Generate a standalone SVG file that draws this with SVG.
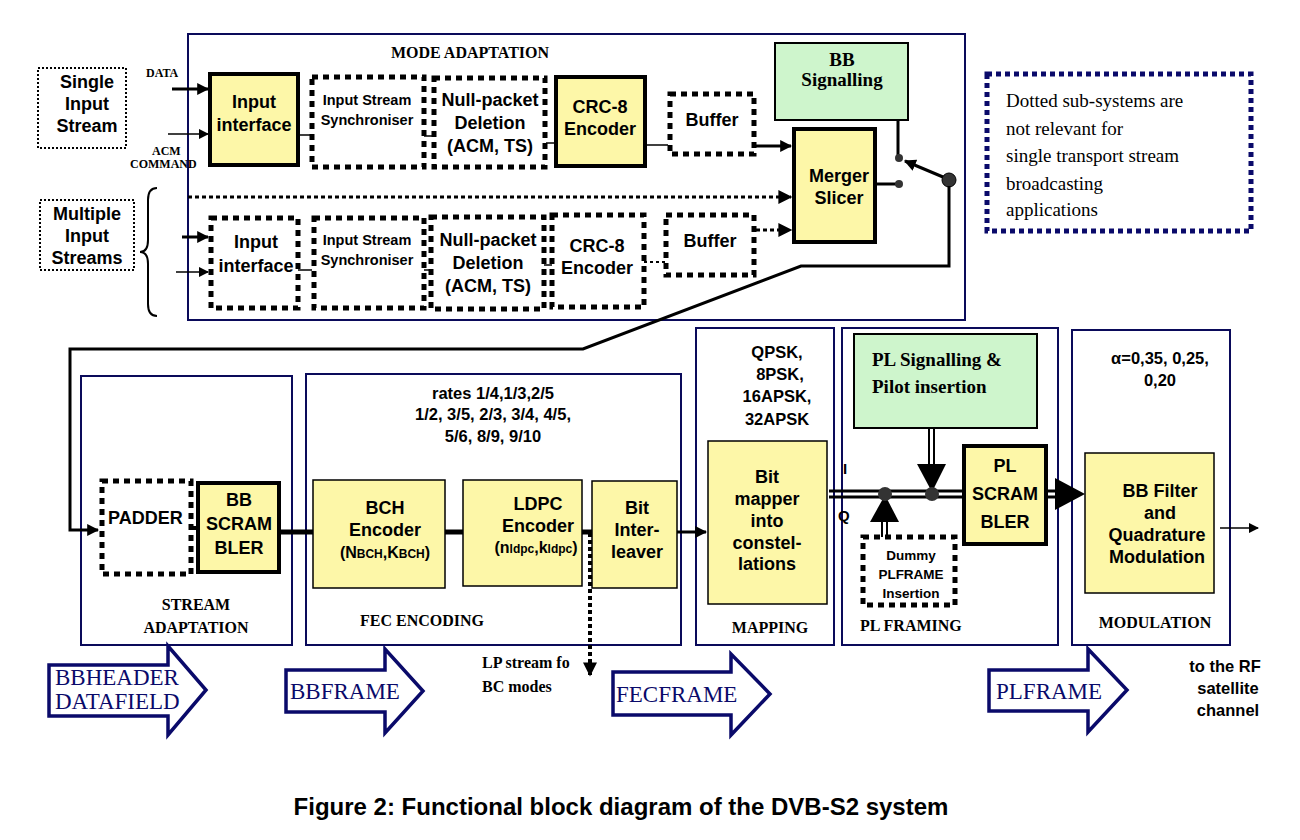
<svg xmlns="http://www.w3.org/2000/svg" width="1300" height="840" viewBox="0 0 1300 840">
<style>
.s{font-family:"Liberation Sans",Arial,sans-serif;font-weight:bold;fill:#000}
.r{font-family:"Liberation Serif","Times New Roman",serif;font-weight:bold;fill:#000}
.rn{font-family:"Liberation Serif","Times New Roman",serif;fill:#000}
.grp{fill:#fff;stroke:#0a0a5a;stroke-width:2}
.y{fill:#fdf7a8;stroke:#000;stroke-width:1.5}
.ys{fill:#fdf7a8;stroke:#000;stroke-width:4}
.d{fill:#fff;stroke:#000;stroke-width:5;stroke-dasharray:6 5}
.g{fill:#cef5cc;stroke:#000;stroke-width:2}
.w{fill:none;stroke:#000;stroke-width:3}
.th{fill:none;stroke:#000;stroke-width:1.5}
.ba{fill:#fff;stroke:#0a0a6a;stroke-width:3.5}
.bt{font-family:"Liberation Serif","Times New Roman",serif;fill:#0a0a6a;font-size:23px}
</style>
<defs>
<marker id="a" viewBox="0 0 10 10" refX="9" refY="5" markerWidth="4" markerHeight="4" orient="auto" markerUnits="strokeWidth"><path d="M0,0L10,5L0,10z" fill="#000"/></marker>
<marker id="a2" viewBox="0 0 10 10" refX="9" refY="5" markerWidth="7" markerHeight="7" orient="auto" markerUnits="strokeWidth"><path d="M0,0L10,5L0,10z" fill="#000"/></marker>
<marker id="a3" viewBox="0 0 10 10" refX="9" refY="5" markerWidth="18" markerHeight="14" orient="auto" markerUnits="userSpaceOnUse"><path d="M0,0L10,5L0,10z" fill="#000"/></marker>
</defs>
<rect width="1300" height="840" fill="#fff"/>

<g id="mode-adaptation">
<rect class="grp" x="188" y="34" width="777" height="286"/>
<text class="r" x="470" y="58" font-size="16" text-anchor="middle">MODE ADAPTATION</text>
</g>
<g id="single-input"><rect x="38" y="68" width="88" height="80" fill="#fff" stroke="#000" stroke-width="2" stroke-dasharray="2 2"/>
<text class="s" font-size="18" text-anchor="middle"><tspan x="87" y="88">Single</tspan><tspan x="87" y="110">Input</tspan><tspan x="87" y="132">Stream</tspan></text></g>
<text class="r" x="146" y="77" font-size="12">DATA</text>
<text class="r" x="152" y="155" font-size="12">ACM</text>
<text class="r" x="130" y="168" font-size="12">COMMAND</text>
<g id="multi-input"><rect x="40" y="200" width="94" height="70" fill="#fff" stroke="#000" stroke-width="2" stroke-dasharray="2 2"/>
<text class="s" font-size="18" text-anchor="middle"><tspan x="87" y="220">Multiple</tspan><tspan x="87" y="242">Input</tspan><tspan x="87" y="264">Streams</tspan></text></g>
<path d="M157,188 Q148,188 148,200 L148,240 Q148,252 140,252 Q148,252 148,264 L148,304 Q148,316 157,316" fill="none" stroke="#000" stroke-width="2"/>

<g id="input-if1"><rect class="ys" x="210" y="74" width="88" height="91"/><text class="s" font-size="18" text-anchor="middle"><tspan x="254" y="108">Input</tspan><tspan x="254" y="131">interface</tspan></text></g>
<g id="sync1"><rect class="d" x="312" y="77" width="112" height="90"/><text class="s" font-size="14.5" text-anchor="middle"><tspan x="367" y="105">Input Stream</tspan><tspan x="367" y="125">Synchroniser</tspan></text></g>
<g id="null1"><rect class="d" x="434" y="78" width="111" height="89"/><text class="s" font-size="18" text-anchor="middle"><tspan x="490" y="106">Null-packet</tspan><tspan x="490" y="129">Deletion</tspan><tspan x="490" y="152">(ACM, TS)</tspan></text></g>
<g id="crc1"><rect class="ys" x="556" y="77" width="89" height="89"/><text class="s" font-size="18" text-anchor="middle"><tspan x="600" y="113">CRC-8</tspan><tspan x="600" y="135">Encoder</tspan></text></g>
<g id="buf1"><rect class="d" x="670" y="94" width="84" height="60"/><text class="s" font-size="18" text-anchor="middle" x="712" y="126">Buffer</text></g>
<g id="bb-sig"><rect class="g" x="775" y="43" width="133" height="77"/><text class="r" font-size="19" text-anchor="middle"><tspan x="842" y="66">BB</tspan><tspan x="842" y="86">Signalling</tspan></text></g>
<g id="merger"><rect class="ys" x="794" y="129" width="81" height="113"/><text class="s" font-size="18" text-anchor="middle"><tspan x="839" y="182">Merger</tspan><tspan x="839" y="204">Slicer</tspan></text></g>

<g id="input-if2"><rect class="d" x="211" y="218" width="87" height="90"/><text class="s" font-size="18" text-anchor="middle"><tspan x="256" y="248">Input</tspan><tspan x="256" y="272">interface</tspan></text></g>
<g id="sync2"><rect class="d" x="314" y="218" width="110" height="90"/><text class="s" font-size="14.5" text-anchor="middle"><tspan x="367" y="245">Input Stream</tspan><tspan x="367" y="265">Synchroniser</tspan></text></g>
<g id="null2"><rect class="d" x="431" y="217" width="113" height="92"/><text class="s" font-size="18" text-anchor="middle"><tspan x="488" y="246">Null-packet</tspan><tspan x="488" y="269">Deletion</tspan><tspan x="488" y="292">(ACM, TS)</tspan></text></g>
<g id="crc2"><rect class="d" x="552" y="215" width="92" height="92"/><text class="s" font-size="18" text-anchor="middle"><tspan x="597" y="252">CRC-8</tspan><tspan x="597" y="274">Encoder</tspan></text></g>
<g id="buf2"><rect class="d" x="666" y="215" width="88" height="60"/><text class="s" font-size="18" text-anchor="middle" x="710" y="247">Buffer</text></g>

<g id="note"><rect x="987" y="74" width="264" height="157" fill="#fff" stroke="#0a0a6a" stroke-width="5" stroke-dasharray="5 4"/>
<text class="rn" font-size="19"><tspan x="1006" y="107">Dotted sub-systems are</tspan><tspan x="1006" y="135">not relevant for</tspan><tspan x="1006" y="162">single transport stream</tspan><tspan x="1006" y="190">broadcasting</tspan><tspan x="1006" y="216">applications</tspan></text></g>

<g id="stream-adaptation"><rect class="grp" x="81" y="376" width="211" height="269"/>
<text class="r" font-size="16" text-anchor="middle"><tspan x="196" y="610">STREAM</tspan><tspan x="196" y="633">ADAPTATION</tspan></text></g>
<g id="padder"><rect class="d" x="102" y="481" width="89" height="93"/><text class="s" font-size="18" x="108" y="524">PADDER</text></g>
<g id="bbscram"><rect class="ys" x="198" y="483" width="81" height="89"/><text class="s" font-size="18" text-anchor="middle"><tspan x="239" y="506">BB</tspan><tspan x="239" y="530">SCRAM</tspan><tspan x="239" y="554">BLER</tspan></text></g>

<g id="fec"><rect class="grp" x="306" y="374" width="375" height="271"/>
<text class="s" font-size="16.5" text-anchor="middle"><tspan x="493" y="399">rates 1/4,1/3,2/5</tspan><tspan x="493" y="420">1/2, 3/5, 2/3, 3/4, 4/5,</tspan><tspan x="493" y="442">5/6, 8/9, 9/10</tspan></text>
<text class="r" font-size="16" x="360" y="626">FEC ENCODING</text></g>
<g id="bch"><rect class="y" x="313" y="480" width="132" height="108"/><text class="s" font-size="18" text-anchor="middle"><tspan x="385" y="514">BCH</tspan><tspan x="385" y="536">Encoder</tspan></text><text class="s" font-size="16" text-anchor="middle" x="385" y="558">(N<tspan font-size="12">BCH</tspan>,K<tspan font-size="12">BCH</tspan>)</text></g>
<g id="ldpc"><rect class="y" x="463" y="480" width="119" height="106"/><text class="s" font-size="18" text-anchor="middle"><tspan x="538" y="510">LDPC</tspan><tspan x="538" y="532">Encoder</tspan></text><text class="s" font-size="16" text-anchor="middle" x="536" y="553">(n<tspan font-size="12">ldpc</tspan>,k<tspan font-size="12">ldpc</tspan>)</text></g>
<g id="interleaver"><rect class="y" x="592" y="481" width="85" height="107"/><text class="s" font-size="18" text-anchor="middle"><tspan x="637" y="514">Bit</tspan><tspan x="637" y="536">Inter-</tspan><tspan x="637" y="558">leaver</tspan></text></g>
<text class="r" font-size="16"><tspan x="482" y="668">LP stream fo</tspan><tspan x="482" y="692">BC modes</tspan></text>

<g id="mapping"><rect class="grp" x="696" y="328" width="138" height="317"/>
<text class="s" font-size="16.5" text-anchor="middle"><tspan x="777" y="358">QPSK,</tspan><tspan x="780" y="380">8PSK,</tspan><tspan x="777" y="402">16APSK,</tspan><tspan x="777" y="425">32APSK</tspan></text>
<text class="r" font-size="16" text-anchor="middle" x="770" y="633">MAPPING</text></g>
<g id="bitmapper"><rect class="y" x="708" y="441" width="119" height="163"/><text class="s" font-size="18" text-anchor="middle"><tspan x="767" y="483">Bit</tspan><tspan x="767" y="505">mapper</tspan><tspan x="767" y="527">into</tspan><tspan x="767" y="549">constel-</tspan><tspan x="767" y="570">lations</tspan></text></g>

<g id="plframing"><rect class="grp" x="842" y="328" width="216" height="317"/>
<text class="r" font-size="16" x="860" y="631">PL FRAMING</text></g>
<g id="plsig"><rect class="g" x="854" y="334" width="183" height="94"/><text class="r" font-size="19"><tspan x="872" y="366">PL Signalling &amp;</tspan><tspan x="872" y="393">Pilot insertion</tspan></text></g>
<g id="plscram"><rect class="ys" x="964" y="446" width="82" height="98"/><text class="s" font-size="18" text-anchor="middle"><tspan x="1005" y="472">PL</tspan><tspan x="1005" y="500">SCRAM</tspan><tspan x="1005" y="528">BLER</tspan></text></g>
<g id="dummy"><rect class="d" x="863" y="537" width="92" height="68"/><text class="s" font-size="13.5" text-anchor="middle"><tspan x="911" y="560">Dummy</tspan><tspan x="911" y="579">PLFRAME</tspan><tspan x="911" y="598">Insertion</tspan></text></g>
<text class="s" font-size="15" x="843" y="474">I</text>
<text class="s" font-size="15" x="838" y="521">Q</text>

<g id="modulation"><rect class="grp" x="1072" y="330" width="158" height="315"/>
<text class="s" font-size="16.5" text-anchor="middle"><tspan x="1160" y="364">α=0,35, 0,25,</tspan><tspan x="1160" y="386">0,20</tspan></text>
<text class="r" font-size="16" text-anchor="middle" x="1155" y="628">MODULATION</text></g>
<g id="bbfilter"><rect class="y" x="1085" y="453" width="129" height="140"/><text class="s" font-size="18" text-anchor="middle"><tspan x="1160" y="497">BB Filter</tspan><tspan x="1160" y="519">and</tspan><tspan x="1157" y="541">Quadrature</tspan><tspan x="1157" y="563">Modulation</tspan></text></g>
<text class="s" font-size="16.5" text-anchor="middle"><tspan x="1225" y="672">to the RF</tspan><tspan x="1228" y="694">satellite</tspan><tspan x="1228" y="716">channel</tspan></text>

<g id="frames">
<path class="ba" d="M49,665H168V646L206,690L168,735V716H49Z"/>
<text class="bt"><tspan x="55" y="685">BBHEADER</tspan><tspan x="55" y="709">DATAFIELD</tspan></text>
<path class="ba" d="M286,670H385V649L423,691L385,733V712H286Z"/>
<text class="bt" x="290" y="699">BBFRAME</text>
<path class="ba" d="M613,672H731V654L770,694L731,735V715H613Z"/>
<text class="bt" x="616" y="702">FECFRAME</text>
<path class="ba" d="M989,670H1088V649L1127,690L1088,732V711H989Z"/>
<text class="bt" x="996" y="699">PLFRAME</text>
</g>

<g id="connectors">
<line class="w" x1="172" y1="89" x2="208" y2="89" marker-end="url(#a)"/>
<line class="th" x1="168" y1="134" x2="208" y2="134" marker-end="url(#a2)"/>
<line class="th" x1="298" y1="135" x2="310" y2="135"/>
<line class="th" x1="424" y1="136" x2="432" y2="136"/>
<line class="th" x1="546" y1="143" x2="554" y2="143"/>
<line class="th" x1="645" y1="145" x2="668" y2="145"/>
<line class="w" x1="756" y1="146" x2="791" y2="146" marker-end="url(#a)"/>
<line x1="188" y1="197" x2="791" y2="197" stroke="#000" stroke-width="3" stroke-dasharray="4 3" marker-end="url(#a3)"/>
<line x1="756" y1="230" x2="791" y2="230" stroke="#000" stroke-width="3" stroke-dasharray="4 3" marker-end="url(#a3)"/>
<line class="w" x1="182" y1="237" x2="208" y2="237" marker-end="url(#a)"/>
<line class="th" x1="176" y1="272" x2="208" y2="272" marker-end="url(#a2)"/>
<line class="th" x1="298" y1="270" x2="312" y2="270"/>
<line class="th" x1="424" y1="270" x2="431" y2="270"/>
<line class="th" x1="544" y1="265" x2="552" y2="265"/>
<line x1="644" y1="262" x2="666" y2="262" stroke="#000" stroke-width="2" stroke-dasharray="3 3"/>
<line class="w" x1="898" y1="120" x2="898" y2="155"/>
<line class="w" x1="875" y1="184" x2="898" y2="184"/>
<circle cx="899" cy="158" r="4" fill="#333"/>
<circle cx="899" cy="184" r="4" fill="#333"/>
<circle cx="949" cy="180" r="7" fill="#333" stroke="#000"/>
<line class="w" x1="943" y1="177" x2="905" y2="161" marker-end="url(#a)"/>
<polyline class="w" points="949,186 949,266 801,266 583,349 70,349 70,530 98,530" marker-end="url(#a)"/>
<line x1="191" y1="528" x2="198" y2="528" stroke="#000" stroke-width="4"/>
<line x1="279" y1="532" x2="313" y2="532" stroke="#000" stroke-width="5"/>
<line x1="445" y1="532" x2="463" y2="532" stroke="#000" stroke-width="5"/>
<line x1="582" y1="532" x2="592" y2="532" stroke="#000" stroke-width="5"/>
<line class="w" x1="677" y1="532" x2="706" y2="532" marker-end="url(#a)"/>
<line x1="590" y1="533" x2="590" y2="675" stroke="#000" stroke-width="4" stroke-dasharray="4 3" marker-end="url(#a3)"/>
<line x1="829" y1="491" x2="964" y2="491" stroke="#000" stroke-width="3"/>
<line x1="829" y1="497" x2="964" y2="497" stroke="#000" stroke-width="3"/>
<line x1="929" y1="428" x2="929" y2="478" stroke="#000" stroke-width="2"/>
<line x1="934" y1="428" x2="934" y2="478" stroke="#000" stroke-width="2"/>
<path d="M917,464L946,464L932,492Z" fill="#000"/>
<line x1="882" y1="537" x2="882" y2="512" stroke="#000" stroke-width="2"/>
<line x1="887" y1="537" x2="887" y2="512" stroke="#000" stroke-width="2"/>
<path d="M870,522L899,522L885,495Z" fill="#000"/>
<circle cx="885" cy="494" r="7" fill="#333"/>
<circle cx="932" cy="494" r="7" fill="#333"/>
<line x1="1046" y1="491" x2="1070" y2="491" stroke="#000" stroke-width="3"/>
<line x1="1046" y1="497" x2="1070" y2="497" stroke="#000" stroke-width="3"/>
<path d="M1055,478L1085,494L1055,510Z" fill="#000"/>
<line x1="1220" y1="528" x2="1258" y2="528" stroke="#000" stroke-width="1.5" marker-end="url(#a2)"/>
</g>

<text class="s" font-size="24" text-anchor="middle" x="621" y="815">Figure 2: Functional block diagram of the DVB-S2 system</text>
</svg>
